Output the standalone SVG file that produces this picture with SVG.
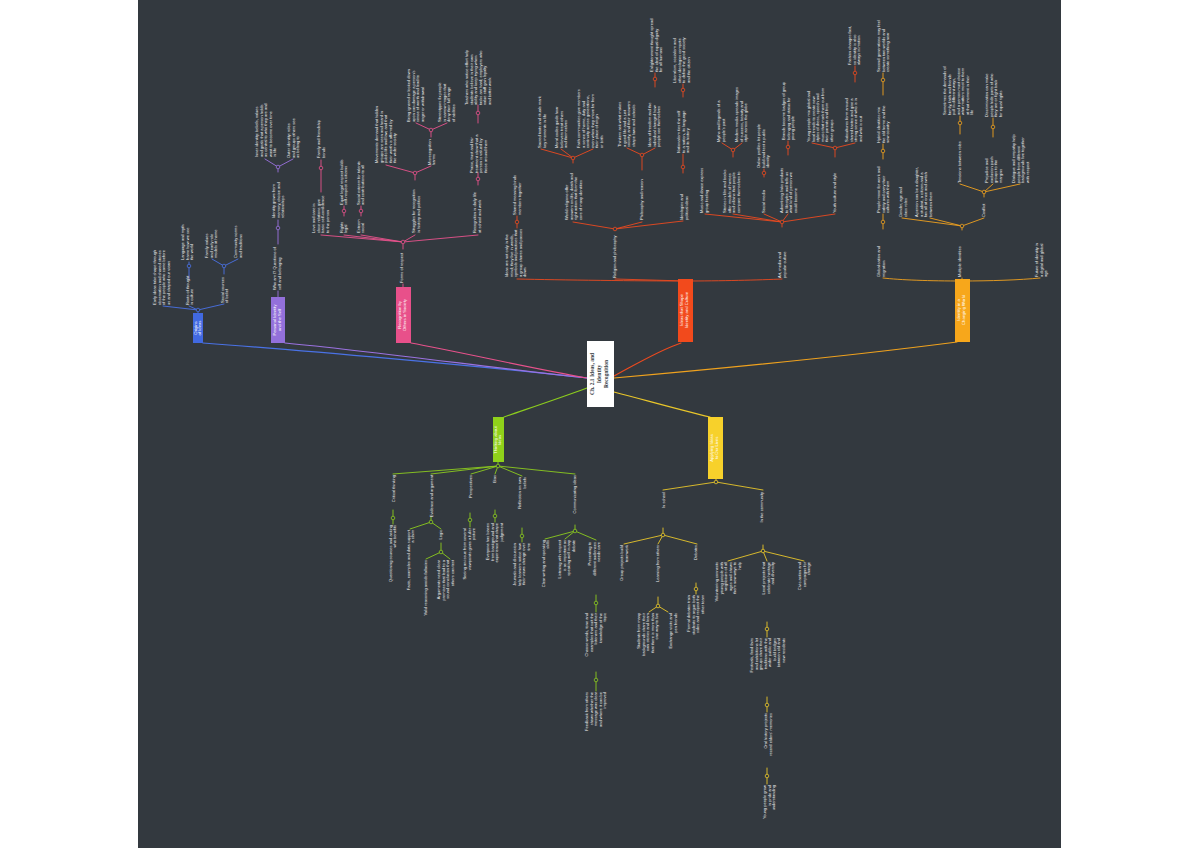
<svg xmlns="http://www.w3.org/2000/svg" width="1200" height="848" viewBox="0 0 1200 848">
<style>
.t{font-family:"Liberation Sans",Arial,sans-serif;font-size:4px;fill:#eeeeee}
.e{text-anchor:end}
.n{font-family:"Liberation Sans",Arial,sans-serif;font-size:4.2px;fill:#ffffff;text-anchor:middle}
.c{fill:none;stroke-width:0.9;stroke-linecap:round}
.m{fill:none;stroke-width:1.2;stroke-linecap:round}
.j{fill:#33393f;stroke-width:0.8}
.cb{stroke:#4a72e6}.cp{stroke:#9b72e0}.ck{stroke:#e8528c}.cr{stroke:#ec4a1f}.co{stroke:#f0a21e}.cg{stroke:#8ccc1e}.cy{stroke:#e9c62a}
</style>
<rect x="0" y="0" width="1200" height="848" fill="#ffffff"/>
<rect x="138" y="0" width="923" height="848" fill="#33393f"/>
<g id="connectors">
<path class="m cb" d="M587,378 C480,366 300,350 203,343"/>
<path class="c cb" d="M198,313 L198,310 M198,310 L163,306 M198,310 L189,306 M198,310 L224,304 M189,279 L189,262 M224,274 L224,266 M224,266 L212,259 M224,266 L238,259"/>
<circle class="j cb" cx="198" cy="310" r="1.8"/><circle class="j cb" cx="189" cy="266" r="1.8"/><circle class="j cb" cx="224" cy="266" r="1.8"/>
<path class="m cp" d="M587,378 C500,369 380,352 285,343"/>
<path class="c cp" d="M278,297 L278,291 M278,244 L278,220 M278,172 L278,167 M278,167 L265,159 M278,167 L293,159"/>
<circle class="j cp" cx="278" cy="228" r="1.8"/><circle class="j cp" cx="278" cy="167" r="1.8"/>
<path class="m ck" d="M587,378 C530,368 460,352 411,343"/>
<path class="c ck" d="M403,287 L403,284 M403,249 L403,242 M403,242 L321,235 M403,242 L344,235 M403,242 L361,235 M403,242 L415,235 M403,242 L478,235 M321,192 L321,160 M344,216 L344,206 M361,216 L361,206 M415,180 L415,173 M415,173 L386,165 M415,173 L431,166 M431,137 L431,130 M431,130 L416,123 M431,130 L447,123 M478,185 L478,173 M478,123 L478,105"/>
<circle class="j ck" cx="403" cy="242" r="1.8"/><circle class="j ck" cx="321" cy="168" r="1.8"/><circle class="j ck" cx="344" cy="211" r="1.8"/><circle class="j ck" cx="361" cy="211" r="1.8"/><circle class="j ck" cx="415" cy="173" r="1.8"/><circle class="j ck" cx="431" cy="130" r="1.8"/><circle class="j ck" cx="478" cy="179" r="1.8"/><circle class="j ck" cx="478" cy="113" r="1.8"/>
<path class="m cr" d="M614,376 C640,362 660,350 681,343"/>
<path class="c cr" d="M685,281 C640,281 560,280 517,279 M685,281 L615,279 M685,281 C720,281 760,280 782,279 M517,228 L517,216 M615,230 L615,229 M615,229 L573,222 M615,229 L642,222 M615,229 L683,221 M573,163 L573,158 M573,158 L541,149 M573,158 L561,149 M573,158 L593,149 M642,170 L642,155 M642,155 L627,148 M642,155 L655,148 M655,87 L655,73 M683,173 L683,154 M683,97 L683,84 M782,227 L782,222 M782,222 L705,214 M782,222 L733,214 M782,222 L764,214 M782,222 L788,214 M782,222 L835,214 M733,157 L733,150 M733,150 L722,143 M733,150 L742,143 M764,177 L764,169 M788,155 L788,141 M835,157 L835,148 M835,148 L812,143 M835,148 L855,143 M855,82 L855,66"/>
<circle class="j cr" cx="517" cy="222" r="1.8"/><circle class="j cr" cx="615" cy="229" r="1.8"/><circle class="j cr" cx="573" cy="158" r="1.8"/><circle class="j cr" cx="642" cy="155" r="1.8"/><circle class="j cr" cx="655" cy="79" r="1.8"/><circle class="j cr" cx="683" cy="167" r="1.8"/><circle class="j cr" cx="683" cy="90" r="1.8"/><circle class="j cr" cx="782" cy="222" r="1.8"/><circle class="j cr" cx="733" cy="150" r="1.8"/><circle class="j cr" cx="764" cy="173" r="1.8"/><circle class="j cr" cx="788" cy="147" r="1.8"/><circle class="j cr" cx="835" cy="148" r="1.8"/><circle class="j cr" cx="855" cy="73" r="1.8"/>
<path class="m co" d="M614,378 C750,366 880,352 957,342"/>
<path class="c co" d="M962,281 C930,281 900,280 883,278 M962,281 C990,281 1020,280 1040,278 M962,281 L962,278 M883,229 L883,214 M883,159 L883,144 M883,95 L883,73 M962,230 L962,226 M962,226 L902,218 M962,226 L930,218 M962,226 L984,218 M984,197 L984,192 M984,192 L960,184 M984,192 L993,184 M984,192 L1020,184 M960,134 L960,116 M993,137 L993,118"/>
<circle class="j co" cx="883" cy="222" r="1.8"/><circle class="j co" cx="883" cy="151" r="1.8"/><circle class="j co" cx="883" cy="80" r="1.8"/><circle class="j co" cx="962" cy="226" r="1.8"/><circle class="j co" cx="984" cy="192" r="1.8"/><circle class="j co" cx="960" cy="123" r="1.8"/><circle class="j co" cx="993" cy="127" r="1.8"/>
<path class="m cg" d="M587,388 C560,398 530,408 504,417"/>
<path class="c cg" d="M498,462 L498,466 M498,466 L393,474 M498,466 L431,474 M498,466 L471,474 M498,466 L495,474 M498,466 L522,476 M498,466 L575,474 M393,510 L393,524 M431,517 L431,522 M431,522 L410,529 M431,522 L441,529 M441,543 L441,552 M441,552 L426,559 M441,552 L450,559 M470,513 L470,527 M495,510 L495,522 M522,528 L522,542 M575,525 L575,531 M575,531 L545,539 M575,531 L565,539 M575,531 L596,540 M596,595 L596,612 M596,672 L596,691"/>
<circle class="j cg" cx="498" cy="466" r="1.8"/><circle class="j cg" cx="393" cy="518" r="1.8"/><circle class="j cg" cx="431" cy="522" r="1.8"/><circle class="j cg" cx="441" cy="552" r="1.8"/><circle class="j cg" cx="470" cy="520" r="1.8"/><circle class="j cg" cx="495" cy="516" r="1.8"/><circle class="j cg" cx="522" cy="536" r="1.8"/><circle class="j cg" cx="575" cy="531" r="1.8"/><circle class="j cg" cx="596" cy="603" r="1.8"/><circle class="j cg" cx="596" cy="680" r="1.8"/>
<path class="m cy" d="M614,392 C645,400 680,410 710,417"/>
<path class="c cy" d="M716,479 L716,482 M716,482 L663,490 M716,482 L763,490 M663,528 L663,535 M663,535 L624,544 M663,535 L658,544 M663,535 L697,544 M658,597 L658,606 M658,606 L649,612 M658,606 L668,612 M696,583 L696,594 M763,545 L763,551 M763,551 L728,561 M763,551 L767,561 M763,551 L804,561 M767,622 L767,637 M767,697 L767,712 M767,768 L767,784"/>
<circle class="j cy" cx="716" cy="482" r="1.8"/><circle class="j cy" cx="663" cy="535" r="1.8"/><circle class="j cy" cx="658" cy="606" r="1.8"/><circle class="j cy" cx="696" cy="589" r="1.8"/><circle class="j cy" cx="763" cy="551" r="1.8"/><circle class="j cy" cx="767" cy="629" r="1.8"/><circle class="j cy" cx="767" cy="705" r="1.8"/><circle class="j cy" cx="767" cy="776" r="1.8"/>
</g>
<g id="center">
<rect x="587" y="341" width="27" height="66" fill="#ffffff"/>
<text transform="translate(594,374) rotate(-90)" font-family="Liberation Serif,serif" font-size="5.5" font-weight="bold" fill="#333a40" text-anchor="middle"><tspan x="0">Ch. 2.1 Ideas, and</tspan><tspan x="0" dy="7">Identity</tspan><tspan x="0" dy="7">Recognition</tspan></text>
</g>
<g id="n-blue"><rect x="193" y="313" width="10" height="30" fill="#4169e1"/><text class="n" transform="translate(197,328) rotate(-90)"><tspan x="0">Origins</tspan><tspan x="0" dy="4.2">of Ideas</tspan></text></g>
<g id="n-purple"><rect x="271" y="297" width="14" height="46" fill="#9370db"/><text class="n" transform="translate(276,320) rotate(-90)"><tspan x="0">Personal Identity</tspan><tspan x="0" dy="4.5">and the Self</tspan></text></g>
<g id="n-pink"><rect x="396" y="287" width="15" height="56" fill="#e8508a"/><text class="n" transform="translate(401,315) rotate(-90)"><tspan x="0">Recognition by</tspan><tspan x="0" dy="4.5">Others in Society</tspan></text></g>
<g id="n-red"><rect x="678" y="279" width="15" height="63" fill="#f24a1c"/><text class="n" transform="translate(683,310) rotate(-90)"><tspan x="0">Ideas that Shape</tspan><tspan x="0" dy="4.5">Identity and Culture</tspan></text></g>
<g id="n-orange"><rect x="955" y="279" width="15" height="63" fill="#f7a71b"/><text class="n" transform="translate(960,310) rotate(-90)"><tspan x="0">Identity in a</tspan><tspan x="0" dy="4.5">Changing World</tspan></text></g>
<g id="n-green"><rect x="493" y="417" width="11" height="45" fill="#8fd11a"/><text class="n" transform="translate(497,440) rotate(-90)"><tspan x="0">Thinking about</tspan><tspan x="0" dy="4.2">Ideas</tspan></text></g>
<g id="n-yellow"><rect x="708" y="417" width="15" height="62" fill="#f7d12b"/><text class="n" transform="translate(713,448) rotate(-90)"><tspan x="0">Applying Ideas</tspan><tspan x="0" dy="4.5">to Our Lives</tspan></text></g>

<g id="bA"><text class="t" transform="translate(156,305) rotate(-90)"><tspan x="0">Early ideas take shape through</tspan><tspan x="0" dy="4.5">observation and shared stories</tspan><tspan x="0" dy="4.5">of the people who came before</tspan><tspan x="0" dy="4.5">us and shaped our views</tspan></text></g>
<g id="bB1"><text class="t" transform="translate(189,305) rotate(-90)"><tspan x="0">Roots of thought</tspan><tspan x="0" dy="4.2">in culture</tspan></text></g>
<g id="bB2"><text class="t" transform="translate(184,260) rotate(-90)"><tspan x="0">Language and myth</tspan><tspan x="0" dy="4.5">frame how we see</tspan><tspan x="0" dy="4.5">the world</tspan></text></g>
<g id="bC"><text class="t" transform="translate(224,303) rotate(-90)"><tspan x="0">Social sources</tspan><tspan x="0" dy="4.2">of belief</tspan></text></g>
<g id="bC1"><text class="t" transform="translate(208,258) rotate(-90)"><tspan x="0">Family values</tspan><tspan x="0" dy="4.5">and early role</tspan><tspan x="0" dy="4.5">models at home</tspan></text></g>
<g id="bC2"><text class="t" transform="translate(237,258) rotate(-90)"><tspan x="0">Community norms</tspan><tspan x="0" dy="4.5">and traditions</tspan></text></g>

<g id="pA"><text class="t" transform="translate(276,290) rotate(-90)"><tspan x="0">Who am I? Questions of</tspan><tspan x="0" dy="4.5">self and belonging</tspan></text></g>
<g id="pB"><text class="t" transform="translate(275,218) rotate(-90)"><tspan x="0">Identity grows from</tspan><tspan x="0" dy="4.5">memory, choice and</tspan><tspan x="0" dy="4.5">relationships</tspan></text></g>
<g id="pC1"><text class="t" transform="translate(258,157) rotate(-90)"><tspan x="0">Inner identity: beliefs, values</tspan><tspan x="0" dy="4.5">and goals that a person holds</tspan><tspan x="0" dy="4.5">as central to who they are and</tspan><tspan x="0" dy="4.5">want to become over time</tspan><tspan x="0" dy="4.5">in life</tspan></text></g>
<g id="pC2"><text class="t" transform="translate(290,158) rotate(-90)"><tspan x="0">Outer identity: roles</tspan><tspan x="0" dy="4.5">and groups others see</tspan><tspan x="0" dy="4.5">us belong to</tspan></text></g>

<g id="kS"><text class="t" transform="translate(403,283) rotate(-90)"><tspan x="0">Forms of respect</tspan></text></g>
<g id="k1a"><text class="t" transform="translate(315,233) rotate(-90)"><tspan x="0">Love and care in</tspan><tspan x="0" dy="4.5">close relations give</tspan><tspan x="0" dy="4.5">basic self-confidence</tspan><tspan x="0" dy="4.5">to the person</tspan></text></g>
<g id="k1b"><text class="t" transform="translate(320,158) rotate(-90)"><tspan x="0">Family and friendship</tspan><tspan x="0" dy="4.5">bonds</tspan></text></g>
<g id="k2a"><text class="t" transform="translate(343,233) rotate(-90)"><tspan x="0">Rights</tspan><tspan x="0" dy="4.2">legal</tspan></text></g>
<g id="k2b"><text class="t" transform="translate(343,205) rotate(-90)"><tspan x="0">Equal legal respect builds</tspan><tspan x="0" dy="4.2">self-respect in citizens</tspan></text></g>
<g id="k3a"><text class="t" transform="translate(360,233) rotate(-90)"><tspan x="0">Esteem</tspan><tspan x="0" dy="4.2">social</tspan></text></g>
<g id="k3b"><text class="t" transform="translate(360,205) rotate(-90)"><tspan x="0">Social esteem for talents</tspan><tspan x="0" dy="4.2">and contributions to all</tspan></text></g>
<g id="k4"><text class="t" transform="translate(415,233) rotate(-90)"><tspan x="0">Struggles for recognition</tspan><tspan x="0" dy="4.5">in history and politics</tspan></text></g>
<g id="k4a"><text class="t" transform="translate(378,163) rotate(-90)"><tspan x="0">Movements demand that hidden</tspan><tspan x="0" dy="4.5">groups are seen and heard in</tspan><tspan x="0" dy="4.5">public life and law, and that</tspan><tspan x="0" dy="4.5">their worth is affirmed by</tspan><tspan x="0" dy="4.5">the wider society</tspan></text></g>
<g id="k4b"><text class="t" transform="translate(431,165) rotate(-90)"><tspan x="0">Misrecognition</tspan><tspan x="0" dy="4.2">harms</tspan></text></g>
<g id="k4b1"><text class="t" transform="translate(410,122) rotate(-90)"><tspan x="0">Being ignored or looked down</tspan><tspan x="0" dy="4.5">upon can damage a person's</tspan><tspan x="0" dy="4.5">sense of worth and lead to</tspan><tspan x="0" dy="4.5">anger or withdrawal</tspan></text></g>
<g id="k4b2"><text class="t" transform="translate(441,122) rotate(-90)"><tspan x="0">Stereotypes fix people</tspan><tspan x="0" dy="4.5">in narrow images that</tspan><tspan x="0" dy="4.5">deny their full range</tspan><tspan x="0" dy="4.5">of abilities</tspan></text></g>
<g id="k5a"><text class="t" transform="translate(476,233) rotate(-90)"><tspan x="0">Recognition in daily life</tspan><tspan x="0" dy="4.5">at school and work</tspan></text></g>
<g id="k5b"><text class="t" transform="translate(473,173) rotate(-90)"><tspan x="0">Praise, trust and fair</tspan><tspan x="0" dy="4.5">treatment show that a</tspan><tspan x="0" dy="4.5">person is valued by</tspan><tspan x="0" dy="4.5">those around them</tspan></text></g>
<g id="k5c"><text class="t" transform="translate(468,105) rotate(-90)"><tspan x="0">Teachers who notice effort help</tspan><tspan x="0" dy="4.5">students believe in their own</tspan><tspan x="0" dy="4.5">ability and keep trying when</tspan><tspan x="0" dy="4.5">tasks are hard; employers who</tspan><tspan x="0" dy="4.5">value staff gain loyalty</tspan><tspan x="0" dy="4.5">and better work</tspan></text></g>

<g id="ra1"><text class="t" transform="translate(508,277) rotate(-90)"><tspan x="0">Ideas are not only in the</tspan><tspan x="0" dy="4.5">mind; they live in words,</tspan><tspan x="0" dy="4.5">symbols and practices that</tspan><tspan x="0" dy="4.5">a group shares and passes</tspan><tspan x="0" dy="4.5">down</tspan></text></g>
<g id="ra2"><text class="t" transform="translate(516,215) rotate(-90)"><tspan x="0">Shared meaning binds</tspan><tspan x="0" dy="4.5">members together</tspan></text></g>
<g id="rbS"><text class="t" transform="translate(616,278) rotate(-90)"><tspan x="0">Religion and philosophy</tspan></text></g>
<g id="rb1S"><text class="t" transform="translate(568,220) rotate(-90)"><tspan x="0">World religions offer</tspan><tspan x="0" dy="4.5">answers on life, death and</tspan><tspan x="0" dy="4.5">right action that form the</tspan><tspan x="0" dy="4.5">core of many identities</tspan></text></g>
<g id="rb1a"><text class="t" transform="translate(541,148) rotate(-90)"><tspan x="0">Sacred texts and rituals mark</tspan><tspan x="0" dy="4.5">key moments in life</tspan></text></g>
<g id="rb1b"><text class="t" transform="translate(558,148) rotate(-90)"><tspan x="0">Moral codes guide how</tspan><tspan x="0" dy="4.5">believers treat others</tspan><tspan x="0" dy="4.5">and themselves</tspan></text></g>
<g id="rb1c"><text class="t" transform="translate(580,148) rotate(-90)"><tspan x="0">Faith communities give members</tspan><tspan x="0" dy="4.5">a sense of home, duty and</tspan><tspan x="0" dy="4.5">continuity across generations,</tspan><tspan x="0" dy="4.5">even when they move far from</tspan><tspan x="0" dy="4.5">their place of origin</tspan><tspan x="0" dy="4.5">or birth</tspan></text></g>
<g id="rb2S"><text class="t" transform="translate(643,220) rotate(-90)"><tspan x="0">Philosophy and reason</tspan></text></g>
<g id="rb2a"><text class="t" transform="translate(621,147) rotate(-90)"><tspan x="0">Thinkers ask what makes</tspan><tspan x="0" dy="4.5">a good life and a just</tspan><tspan x="0" dy="4.5">society, and their answers</tspan><tspan x="0" dy="4.5">shape laws and schools</tspan></text></g>
<g id="rb2b"><text class="t" transform="translate(651,147) rotate(-90)"><tspan x="0">Ideas of freedom and the</tspan><tspan x="0" dy="4.5">individual changed how</tspan><tspan x="0" dy="4.5">people see themselves</tspan></text></g>
<g id="rb2c"><text class="t" transform="translate(653,72) rotate(-90)"><tspan x="0">Enlightenment thought spread</tspan><tspan x="0" dy="4.5">the ideal of equal dignity</tspan><tspan x="0" dy="4.5">for all humans</tspan></text></g>
<g id="rb3S"><text class="t" transform="translate(683,220) rotate(-90)"><tspan x="0">Ideologies and</tspan><tspan x="0" dy="4.5">political ideas</tspan></text></g>
<g id="rb3a"><text class="t" transform="translate(680,153) rotate(-90)"><tspan x="0">Nationalism ties the self</tspan><tspan x="0" dy="4.5">to a nation, its language</tspan><tspan x="0" dy="4.5">and its history</tspan></text></g>
<g id="rb3b"><text class="t" transform="translate(676,83) rotate(-90)"><tspan x="0">Liberalism, socialism and</tspan><tspan x="0" dy="4.5">other ideologies compete</tspan><tspan x="0" dy="4.5">to define the good society</tspan><tspan x="0" dy="4.5">and the citizen</tspan></text></g>
<g id="rcS"><text class="t" transform="translate(781,278) rotate(-90)"><tspan x="0">Art, media and</tspan><tspan x="0" dy="4.5">popular culture</tspan></text></g>
<g id="rc1"><text class="t" transform="translate(703,213) rotate(-90)"><tspan x="0">Music and dance express</tspan><tspan x="0" dy="4.5">group feeling</tspan></text></g>
<g id="rc2S"><text class="t" transform="translate(726,213) rotate(-90)"><tspan x="0">Stories in film and books</tspan><tspan x="0" dy="4.5">offer models of heroes</tspan><tspan x="0" dy="4.5">and villains that people</tspan><tspan x="0" dy="4.5">compare themselves to</tspan></text></g>
<g id="rc2a"><text class="t" transform="translate(720,142) rotate(-90)"><tspan x="0">Myths and legends of a</tspan><tspan x="0" dy="4.5">people's past</tspan></text></g>
<g id="rc2b"><text class="t" transform="translate(738,142) rotate(-90)"><tspan x="0">Modern media spreads images</tspan><tspan x="0" dy="4.5">of success, beauty and</tspan><tspan x="0" dy="4.5">style across the globe</tspan></text></g>
<g id="rc3a"><text class="t" transform="translate(765,213) rotate(-90)"><tspan x="0">Social media</tspan></text></g>
<g id="rc3b"><text class="t" transform="translate(760,168) rotate(-90)"><tspan x="0">Online profiles let people</tspan><tspan x="0" dy="4.5">build and test a public</tspan><tspan x="0" dy="4.5">identity</tspan></text></g>
<g id="rc4a"><text class="t" transform="translate(783,213) rotate(-90)"><tspan x="0">Advertising links products</tspan><tspan x="0" dy="4.5">to lifestyles and tells us</tspan><tspan x="0" dy="4.5">what kind of person we</tspan><tspan x="0" dy="4.5">could become</tspan></text></g>
<g id="rc4b"><text class="t" transform="translate(785,140) rotate(-90)"><tspan x="0">Brands become badges of group</tspan><tspan x="0" dy="4.5">belonging and status for</tspan><tspan x="0" dy="4.5">young people</tspan></text></g>
<g id="rc5S"><text class="t" transform="translate(836,213) rotate(-90)"><tspan x="0">Youth culture and style</tspan></text></g>
<g id="rc5a"><text class="t" transform="translate(810,142) rotate(-90)"><tspan x="0">Young people mix global and</tspan><tspan x="0" dy="4.5">local trends to create new</tspan><tspan x="0" dy="4.5">styles of dress, speech and</tspan><tspan x="0" dy="4.5">music that mark them out from</tspan><tspan x="0" dy="4.5">their parents and from</tspan><tspan x="0" dy="4.5">other groups</tspan></text></g>
<g id="rc5b"><text class="t" transform="translate(848,142) rotate(-90)"><tspan x="0">Subcultures form around</tspan><tspan x="0" dy="4.5">shared tastes and give a</tspan><tspan x="0" dy="4.5">strong sense of who is in</tspan><tspan x="0" dy="4.5">and who is out</tspan></text></g>
<g id="rc5c"><text class="t" transform="translate(851,65) rotate(-90)"><tspan x="0">Fashion changes fast,</tspan><tspan x="0" dy="4.5">so identity is also</tspan><tspan x="0" dy="4.5">always in motion</tspan></text></g>

<g id="oa1"><text class="t" transform="translate(880,277) rotate(-90)"><tspan x="0">Globalisation and</tspan><tspan x="0" dy="4.5">migration</tspan></text></g>
<g id="oa2"><text class="t" transform="translate(880,213) rotate(-90)"><tspan x="0">People move for work and</tspan><tspan x="0" dy="4.5">safety and carry their</tspan><tspan x="0" dy="4.5">cultures with them</tspan></text></g>
<g id="oa3"><text class="t" transform="translate(880,143) rotate(-90)"><tspan x="0">Hybrid identities mix</tspan><tspan x="0" dy="4.5">the old home and the</tspan><tspan x="0" dy="4.5">new country</tspan></text></g>
<g id="oa4"><text class="t" transform="translate(880,72) rotate(-90)"><tspan x="0">Second generations may feel</tspan><tspan x="0" dy="4.5">between two worlds and</tspan><tspan x="0" dy="4.5">create something new</tspan></text></g>
<g id="obS"><text class="t" transform="translate(961,277) rotate(-90)"><tspan x="0">Multiple identities</tspan></text></g>
<g id="ob1"><text class="t" transform="translate(902,217) rotate(-90)"><tspan x="0">Gender, age and</tspan><tspan x="0" dy="4.5">class roles</tspan></text></g>
<g id="ob2"><text class="t" transform="translate(918,217) rotate(-90)"><tspan x="0">A person can be a daughter,</tspan><tspan x="0" dy="4.5">a student, a citizen and a</tspan><tspan x="0" dy="4.5">fan all at once and switch</tspan><tspan x="0" dy="4.5">between them</tspan></text></g>
<g id="ob3S"><text class="t" transform="translate(985,217) rotate(-90)"><tspan x="0">Conflict</tspan></text></g>
<g id="ob3a"><text class="t" transform="translate(961,183) rotate(-90)"><tspan x="0">Tensions between roles</tspan></text></g>
<g id="ob3a2"><text class="t" transform="translate(946,115) rotate(-90)"><tspan x="0">Sometimes the demands of</tspan><tspan x="0" dy="4.5">family, faith and friends</tspan><tspan x="0" dy="4.5">pull in different ways,</tspan><tspan x="0" dy="4.5">and a person must choose</tspan><tspan x="0" dy="4.5">what matters most to them</tspan><tspan x="0" dy="4.5">at that moment in their</tspan><tspan x="0" dy="4.5">life</tspan></text></g>
<g id="ob3b"><text class="t" transform="translate(988,183) rotate(-90)"><tspan x="0">Prejudice and</tspan><tspan x="0" dy="4.5">exclusion push</tspan><tspan x="0" dy="4.5">groups to the</tspan><tspan x="0" dy="4.5">margins</tspan></text></g>
<g id="ob3b2"><text class="t" transform="translate(988,117) rotate(-90)"><tspan x="0">Discrimination can make</tspan><tspan x="0" dy="4.5">people hide parts of who</tspan><tspan x="0" dy="4.5">they are or fight back</tspan><tspan x="0" dy="4.5">for equal rights</tspan></text></g>
<g id="ob3c"><text class="t" transform="translate(1015,183) rotate(-90)"><tspan x="0">Dialogue and empathy help</tspan><tspan x="0" dy="4.5">people from different</tspan><tspan x="0" dy="4.5">backgrounds live together</tspan><tspan x="0" dy="4.5">with respect</tspan></text></g>
<g id="oc"><text class="t" transform="translate(1038,277) rotate(-90)"><tspan x="0">Future of identity in</tspan><tspan x="0" dy="4.5">a digital and global</tspan><tspan x="0" dy="4.5">age</tspan></text></g>

<g id="g1a"><text class="t e" transform="translate(395,475) rotate(-90)"><tspan x="0">Critical thinking</tspan></text></g>
<g id="g1b"><text class="t e" transform="translate(392,525) rotate(-90)"><tspan x="0">Questioning sources and asking</tspan><tspan x="0" dy="4.2">who benefits</tspan></text></g>
<g id="g2S"><text class="t e" transform="translate(433,475) rotate(-90)"><tspan x="0">Evidence and argument</tspan></text></g>
<g id="g2a"><text class="t e" transform="translate(410,530) rotate(-90)"><tspan x="0">Facts, examples and data support</tspan><tspan x="0" dy="4.2">a claim</tspan></text></g>
<g id="g2bS"><text class="t e" transform="translate(442,530) rotate(-90)"><tspan x="0">Logic</tspan></text></g>
<g id="g2b1"><text class="t e" transform="translate(427,560) rotate(-90)"><tspan x="0">Valid reasoning avoids fallacies</tspan></text></g>
<g id="g2b2"><text class="t e" transform="translate(440,560) rotate(-90)"><tspan x="0">Arguments need clear</tspan><tspan x="0" dy="4.5">premises that lead to a</tspan><tspan x="0" dy="4.5">sound conclusion that</tspan><tspan x="0" dy="4.5">others can test</tspan></text></g>
<g id="g3a"><text class="t e" transform="translate(472,475) rotate(-90)"><tspan x="0">Perspectives</tspan></text></g>
<g id="g3b"><text class="t e" transform="translate(466,528) rotate(-90)"><tspan x="0">Seeing an issue from several</tspan><tspan x="0" dy="4.5">viewpoints gives a fuller</tspan><tspan x="0" dy="4.5">picture</tspan></text></g>
<g id="g4a"><text class="t e" transform="translate(496,475) rotate(-90)"><tspan x="0">Bias</tspan></text></g>
<g id="g4b"><text class="t e" transform="translate(489,523) rotate(-90)"><tspan x="0">Everyone has biases</tspan><tspan x="0" dy="4.5">from background and</tspan><tspan x="0" dy="4.5">experience that shape</tspan><tspan x="0" dy="4.5">judgement</tspan></text></g>
<g id="g5a"><text class="t e" transform="translate(521,477) rotate(-90)"><tspan x="0">Reflection on own</tspan><tspan x="0" dy="4.5">beliefs</tspan></text></g>
<g id="g5b"><text class="t e" transform="translate(516,543) rotate(-90)"><tspan x="0">Journals and discussion</tspan><tspan x="0" dy="4.5">help learners notice how</tspan><tspan x="0" dy="4.5">their views change over</tspan><tspan x="0" dy="4.5">time</tspan></text></g>
<g id="g6S"><text class="t e" transform="translate(576,475) rotate(-90)"><tspan x="0">Communicating ideas</tspan></text></g>
<g id="g6a"><text class="t e" transform="translate(545,540) rotate(-90)"><tspan x="0">Clear writing and speaking</tspan><tspan x="0" dy="4.2">skills</tspan></text></g>
<g id="g6b"><text class="t e" transform="translate(561,540) rotate(-90)"><tspan x="0">Listening with respect</tspan><tspan x="0" dy="4.5">is as important as</tspan><tspan x="0" dy="4.5">speaking well in any</tspan><tspan x="0" dy="4.5">debate</tspan></text></g>
<g id="g6cS"><text class="t e" transform="translate(591,542) rotate(-90)"><tspan x="0">Presenting to</tspan><tspan x="0" dy="4.5">different audiences</tspan><tspan x="0" dy="4.5">needs care</tspan></text></g>
<g id="g6c2"><text class="t e" transform="translate(588,613) rotate(-90)"><tspan x="0">Choose words, tone and</tspan><tspan x="0" dy="4.5">examples that suit the</tspan><tspan x="0" dy="4.5">listeners and their</tspan><tspan x="0" dy="4.5">knowledge of the</tspan><tspan x="0" dy="4.5">topic</tspan></text></g>
<g id="g6c3"><text class="t e" transform="translate(588,692) rotate(-90)"><tspan x="0">Feedback from others</tspan><tspan x="0" dy="4.5">shows whether the</tspan><tspan x="0" dy="4.5">message was clear</tspan><tspan x="0" dy="4.5">and where it can be</tspan><tspan x="0" dy="4.5">improved</tspan></text></g>

<g id="y1S"><text class="t e" transform="translate(665,492) rotate(-90)"><tspan x="0">In school</tspan></text></g>
<g id="y1a"><text class="t e" transform="translate(623,545) rotate(-90)"><tspan x="0">Group projects build</tspan><tspan x="0" dy="4.5">teamwork</tspan></text></g>
<g id="y1bS"><text class="t e" transform="translate(659,545) rotate(-90)"><tspan x="0">Learning from others</tspan></text></g>
<g id="y1b1"><text class="t e" transform="translate(640,613) rotate(-90)"><tspan x="0">Students from many</tspan><tspan x="0" dy="4.5">backgrounds share their</tspan><tspan x="0" dy="4.5">own stories and learn</tspan><tspan x="0" dy="4.5">that there is more than</tspan><tspan x="0" dy="4.5">one way to live</tspan></text></g>
<g id="y1b2"><text class="t e" transform="translate(672,613) rotate(-90)"><tspan x="0">Exchange visits and</tspan><tspan x="0" dy="4.5">pen friends</tspan></text></g>
<g id="y1c1"><text class="t e" transform="translate(697,545) rotate(-90)"><tspan x="0">Debates</tspan></text></g>
<g id="y1c2"><text class="t e" transform="translate(690,595) rotate(-90)"><tspan x="0">Formal debates train</tspan><tspan x="0" dy="4.5">students to argue both</tspan><tspan x="0" dy="4.5">sides and respect the</tspan><tspan x="0" dy="4.5">other team</tspan></text></g>
<g id="y2S"><text class="t e" transform="translate(763,492) rotate(-90)"><tspan x="0">In the community</tspan></text></g>
<g id="y2a"><text class="t e" transform="translate(718,562) rotate(-90)"><tspan x="0">Volunteering connects</tspan><tspan x="0" dy="4.5">young people with</tspan><tspan x="0" dy="4.5">neighbours of all</tspan><tspan x="0" dy="4.5">ages and shows</tspan><tspan x="0" dy="4.5">them new ways to</tspan><tspan x="0" dy="4.5">help</tspan></text></g>
<g id="y2bS"><text class="t e" transform="translate(765,562) rotate(-90)"><tspan x="0">Local projects that</tspan><tspan x="0" dy="4.5">celebrate heritage</tspan><tspan x="0" dy="4.5">and diversity</tspan></text></g>
<g id="y2b2"><text class="t e" transform="translate(753,638) rotate(-90)"><tspan x="0">Festivals, food fairs</tspan><tspan x="0" dy="4.5">and exhibitions let</tspan><tspan x="0" dy="4.5">groups share their</tspan><tspan x="0" dy="4.5">traditions with the</tspan><tspan x="0" dy="4.5">wider public and</tspan><tspan x="0" dy="4.5">build bridges</tspan><tspan x="0" dy="4.5">between old and</tspan><tspan x="0" dy="4.5">new residents</tspan></text></g>
<g id="y2b3"><text class="t e" transform="translate(767,713) rotate(-90)"><tspan x="0">Oral history projects</tspan><tspan x="0" dy="4.5">record elders' memories</tspan></text></g>
<g id="y2b4"><text class="t e" transform="translate(766,785) rotate(-90)"><tspan x="0">Young people grow</tspan><tspan x="0" dy="4.5">in pride and</tspan><tspan x="0" dy="4.5">understanding</tspan></text></g>
<g id="y2c"><text class="t e" transform="translate(801,562) rotate(-90)"><tspan x="0">Civic action and</tspan><tspan x="0" dy="4.5">campaigns for</tspan><tspan x="0" dy="4.5">change</tspan></text></g>
</svg>
